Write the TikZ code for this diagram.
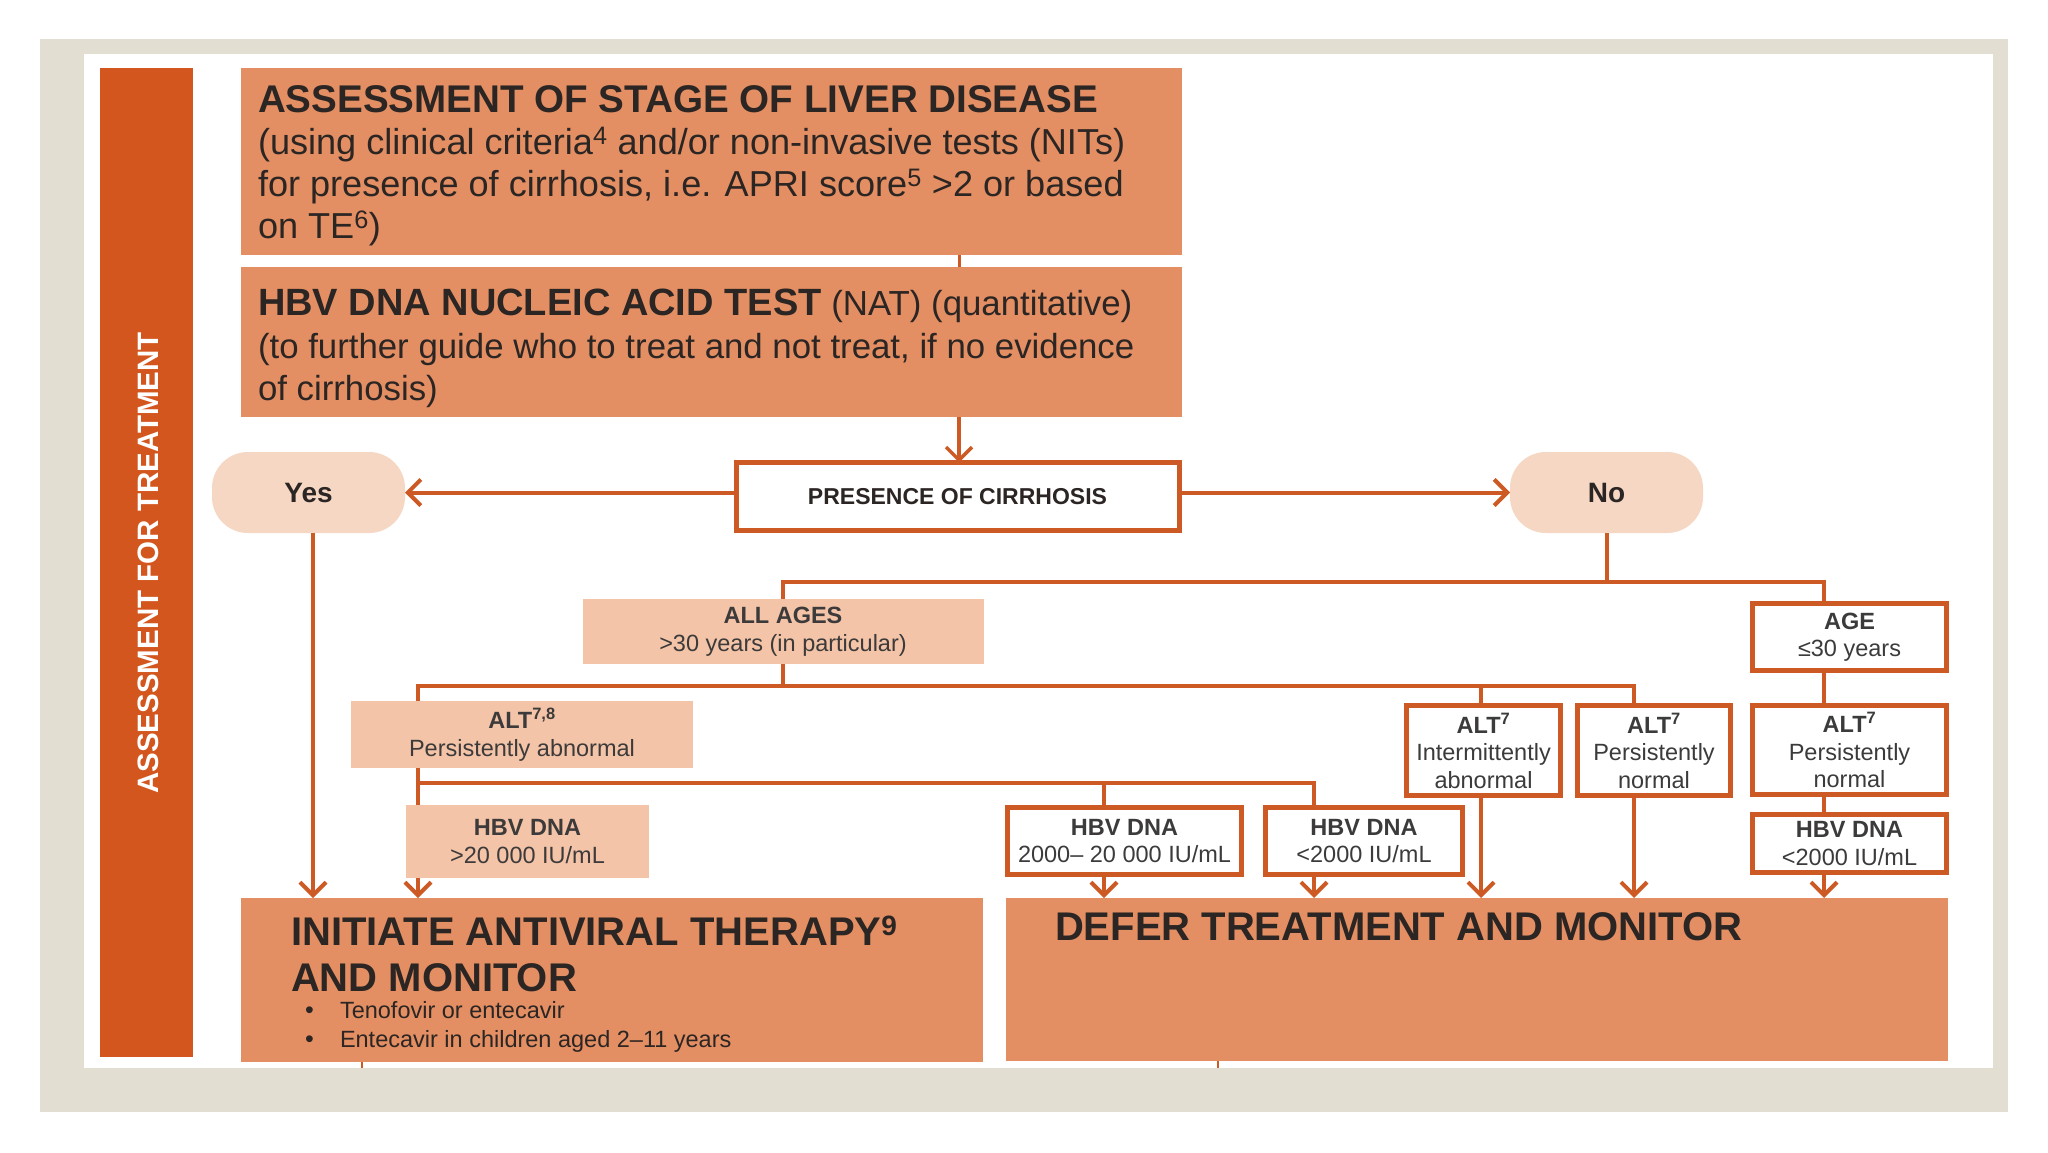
\documentclass[tikz,border=0pt]{standalone}
\usepackage{fontspec}
\setmainfont{Liberation Sans}
\usetikzlibrary{arrows.meta}
\definecolor{beige}{HTML}{E2DED2}
\definecolor{barcol}{HTML}{D2561D}
\definecolor{salmon}{HTML}{E38F63}
\definecolor{peach}{HTML}{F3C4A7}
\definecolor{pale}{HTML}{F6D7C3}
\definecolor{edge}{HTML}{CD5A24}
\definecolor{txt}{HTML}{2B2523}
\definecolor{txtg}{HTML}{3C3A3A}
\begin{document}
\begin{tikzpicture}[x=1pt,y=-1pt,
  big/.style={draw=none,fill=salmon,inner sep=0,outer sep=0},
  pk/.style={draw=none,fill=peach,inner sep=0,outer sep=0,align=center,text=txtg,font=\fontsize{23.5}{27.5}\selectfont},
  wb/.style={draw=edge,line width=5pt,fill=white,inner sep=0,outer sep=0,align=center,text=txtg,font=\fontsize{23.5}{27.5}\selectfont},
  yn/.style={draw=none,fill=pale,rounded corners=36pt,inner sep=0,outer sep=0,text=txt,font=\fontsize{28}{30}\selectfont\bfseries},
  ln/.style={anchor=base west,inner sep=0,outer sep=0,text=txt},
  ttl/.style={ln,font=\fontsize{38}{42}\selectfont\bfseries},
  bdy/.style={ln,font=\fontsize{36.1}{42}\selectfont},
  bdyb/.style={ln,font=\fontsize{34.8}{42}\selectfont},
  conn/.style={draw=edge,line width=4pt},
  arr/.style={conn,-{Straight Barb[length=13pt,width=26pt]}},
]
\useasboundingbox (0,0) rectangle (2048,1152);
\fill[white] (0,0) rectangle (2048,1152);
\fill[beige] (40,39) rectangle (2008,1112);
\fill[white] (84,54) rectangle (1993,1068);

% left bar
\node[fill=barcol,minimum width=93pt,minimum height=989pt,inner sep=0] (lbar) at (146.5,562.5) {};
\node[rotate=90,text=white,font=\fontsize{29.5}{30}\selectfont\bfseries,inner sep=0] (lbart) at (148,563) {ASSESSMENT FOR TREATMENT};

% top boxes
\node[big,minimum width=941pt,minimum height=187pt] (box1) at (711.5,161.5) {};
\node[ttl,font=\fontsize{38.6}{42}\selectfont\bfseries] (b1a) at (258,112) {ASSESSMENT OF STAGE OF LIVER DISEASE};
\node[bdy] (b1b) at (258,154) {(using clinical criteria\textsuperscript{4} and/or non-invasive tests (NITs)};
\node[bdy] (b1c) at (258,196) {for presence of cirrhosis, i.e. APRI score\textsuperscript{5} >2 or based};
\node[bdy] (b1d) at (258,238) {on TE\textsuperscript{6})};

\node[big,minimum width=941pt,minimum height=150pt] (box2) at (711.5,342) {};
\node[ttl] (b2a) at (258,315) {HBV DNA NUCLEIC ACID TEST\fontsize{34.8}{42}\selectfont\mdseries{} (NAT) (quantitative)};
\node[bdyb] (b2b) at (258,358) {(to further guide who to treat and not treat, if no evidence};
\node[bdyb] (b2c) at (258,400) {of cirrhosis)};

% presence
\node[wb,minimum width=443pt,minimum height=68pt,text=txt,font=\fontsize{23}{26}\selectfont\bfseries] (pres) at (957.5,496.5) {PRESENCE OF CIRRHOSIS};
\node[yn,minimum width=193pt,minimum height=81pt] (yes) at (308.5,492.5) {Yes};
\node[yn,minimum width=193pt,minimum height=81pt] (no) at (1606.5,492.5) {No};

% second level
\node[pk,minimum width=401pt,minimum height=65pt] (allages) at (783,631.5) {\textbf{ALL AGES}\\>30 years (in particular)};
\node[wb,minimum width=194pt,minimum height=67pt] (age) at (1849.5,637) {\textbf{AGE}\\≤30 years};

\node[pk,minimum width=342pt,minimum height=67pt] (alt78) at (522,734.5) {\textbf{ALT\textsuperscript{7,8}}\\Persistently abnormal};
\node[wb,minimum width=154pt,minimum height=90pt] (altint) at (1483.5,750.5) {\textbf{ALT\textsuperscript{7}}\\Intermittently\\abnormal};
\node[wb,minimum width=153pt,minimum height=90pt] (altpn) at (1654,750.5) {\textbf{ALT\textsuperscript{7}}\\Persistently\\normal};
\node[wb,minimum width=194pt,minimum height=89pt] (altpn2) at (1849.5,750) {\textbf{ALT\textsuperscript{7}}\\Persistently\\normal};

\node[pk,minimum width=243pt,minimum height=73pt] (hbvhi) at (527.5,841.5) {\textbf{HBV DNA}\\>20 000 IU/mL};
\node[wb,minimum width=234pt,minimum height=67pt] (hbvmid) at (1124.5,841) {\textbf{HBV DNA}\\2000– 20 000 IU/mL};
\node[wb,minimum width=197pt,minimum height=67pt] (hbvlo) at (1364,841) {\textbf{HBV DNA}\\<2000 IU/mL};
\node[wb,minimum width=194pt,minimum height=58pt] (hbvlo2) at (1849.5,843.5) {\textbf{HBV DNA}\\<2000 IU/mL};

% bottom boxes
\node[big,minimum width=742pt,minimum height=164pt] (init) at (612,980) {};
\node[ln,font=\fontsize{40}{46}\selectfont\bfseries] (ia) at (291,945) {INITIATE ANTIVIRAL THERAPY\textsuperscript{9}};
\node[ln,font=\fontsize{40}{46}\selectfont\bfseries] (ib) at (291,991) {AND MONITOR};
\node[ln,font=\fontsize{25}{28}\selectfont] (ic) at (305,1018) {•};
\node[ln,font=\fontsize{23.5}{28}\selectfont] (id) at (340,1018) {Tenofovir or entecavir};
\node[ln,font=\fontsize{25}{28}\selectfont] (ie) at (305,1047) {•};
\node[ln,font=\fontsize{23.5}{28}\selectfont] (if) at (340,1047) {Entecavir in children aged 2–11 years};

\node[big,minimum width=942pt,minimum height=163pt] (defer) at (1477,979.5) {};
\node[ln,font=\fontsize{40}{46}\selectfont\bfseries] (da) at (1055,940) {DEFER TREATMENT AND MONITOR};

% x positions of drops
\coordinate (xmain) at (959,0);
\coordinate (xyes) at (313,0);
\coordinate (xa) at (418,0);
\coordinate (xaa) at (783,0);
\coordinate (xd) at (1104,0);
\coordinate (xe) at (1314,0);
\coordinate (xb) at (1481,0);
\coordinate (xc) at (1634,0);
\coordinate (xr) at (1824,0);
\coordinate (y1) at (0,582);
\coordinate (y2) at (0,686);
\coordinate (y3) at (0,783);
\coordinate (tk1) at (362,0);
\coordinate (tk2) at (1218,0);

% connectors
\draw[conn,line width=3pt] (box1.south -| xmain) -- (box2.north -| xmain);
\draw[arr,line width=3.5pt] (box2.south -| xmain) -- (pres.north -| xmain);
\draw[arr] (pres.west |- yes.east) -- (yes.east);
\draw[arr] (pres.east |- no.west) -- (no.west);
\draw[conn] (no.south) -- (no.south |- y1);
\draw[conn] (allages.north -| xaa) -- (xaa |- y1) -- (xr |- y1) -- (age.north -| xr);
\draw[conn] (allages.south -| xaa) -- (xaa |- y2);
\draw[conn] (alt78.north -| xa) -- (xa |- y2) -- (xc |- y2) -- (altpn.north -| xc);
\draw[conn] (xb |- y2) -- (altint.north -| xb);
\draw[conn] (alt78.south -| xa) -- (hbvhi.north -| xa);
\draw[conn] (xa |- y3) -- (xe |- y3) -- (hbvlo.north -| xe);
\draw[conn] (xd |- y3) -- (hbvmid.north -| xd);
\draw[conn] (age.south -| xr) -- (altpn2.north -| xr);
\draw[conn] (altpn2.south -| xr) -- (hbvlo2.north -| xr);
\draw[arr] (yes.south -| xyes) -- (init.north -| xyes);
\draw[arr] (hbvhi.south -| xa) -- (init.north -| xa);
\draw[arr] (hbvmid.south -| xd) -- (defer.north -| xd);
\draw[arr] (hbvlo.south -| xe) -- (defer.north -| xe);
\draw[arr] (altint.south -| xb) -- (defer.north -| xb);
\draw[arr] (altpn.south -| xc) -- (defer.north -| xc);
\draw[arr] (hbvlo2.south -| xr) -- (defer.north -| xr);
\draw[draw=edge,line width=2pt] (init.south -| tk1) -- ++(0,6);
\draw[draw=edge,line width=2pt] (defer.south -| tk2) -- ++(0,7);
\end{tikzpicture}
\end{document}
